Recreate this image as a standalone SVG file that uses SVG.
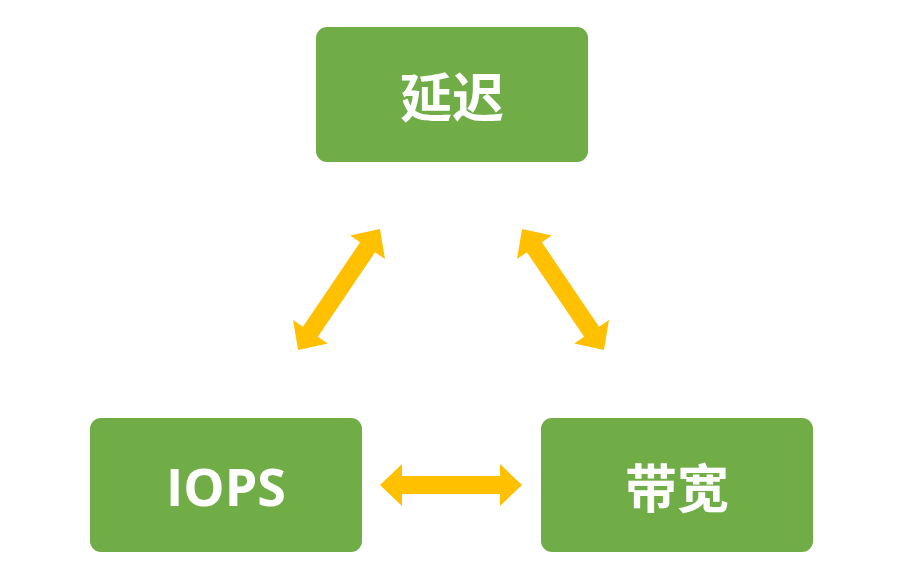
<svg xmlns="http://www.w3.org/2000/svg" width="904" height="579" viewBox="0 0 904 579">
<style>
.box{fill:#70AD47}
.t{fill:#fff;font-family:"Noto Sans CJK SC","Liberation Sans",sans-serif;font-weight:bold;font-size:52px;text-anchor:middle;dominant-baseline:central}
.a{fill:#FFC000}
</style>
<rect width="904" height="579" fill="#fff"/>
<g id="latency"><rect class="box" x="316" y="27" width="272" height="135" rx="11"/><text class="t" x="452" y="94">延迟</text></g>
<g id="iops"><rect class="box" x="90" y="418" width="272" height="134" rx="11"/><text class="t" x="226" y="485" style="font-family:'Open Sans','Liberation Sans',sans-serif">IOPS</text></g>
<g id="bandwidth"><rect class="box" x="541" y="418" width="272" height="134" rx="11"/><text class="t" x="677" y="485">带宽</text></g>
<g id="connectors">
<polygon class="a" transform="translate(451,485)" points="-71,0 -49,-21 -49,-9 49,-9 49,-21 71,0 49,21 49,9 -49,9 -49,21"/>
<polygon class="a" transform="translate(339,289.5) rotate(-55.9)" points="-73,0 -51,-21 -51,-9 51,-9 51,-21 73,0 51,21 51,9 -51,9 -51,21"/>
<polygon class="a" transform="translate(563,289.5) rotate(55.9)" points="-73,0 -51,-21 -51,-9 51,-9 51,-21 73,0 51,21 51,9 -51,9 -51,21"/>
</g>
</svg>
